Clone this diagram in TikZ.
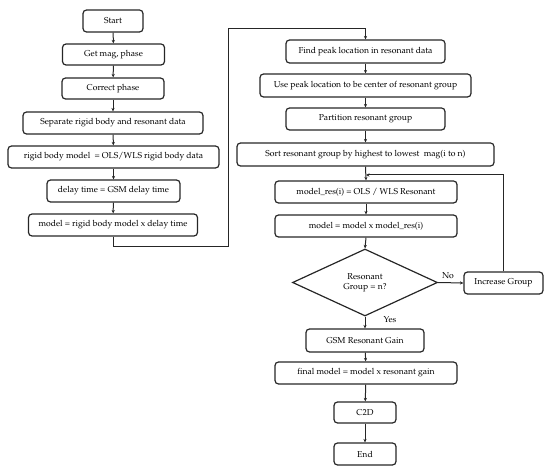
\documentclass[tikz,border=0pt]{standalone}
\usepackage[T1]{fontenc}
\usepackage{mathpazo}
\usetikzlibrary{shapes.geometric,arrows.meta}
\begin{document}
\begin{tikzpicture}[x=1pt,y=-1pt,
  box/.style={draw=black!85,line width=1.2pt,rounded corners=3.5pt,inner sep=0pt,
    font=\fontsize{8.6}{10}\selectfont,align=center},
  conn/.style={draw=black!85,line width=1pt,-{Stealth[length=3.5pt,width=3.2pt]}},
  lbl/.style={font=\fontsize{8.6}{10}\selectfont,inner sep=0pt}]
\useasboundingbox (0,0) rectangle (550,473);
\node[box,minimum width=60pt,minimum height=22pt] (start) at (113,21) {Start};
\node[box,minimum width=102pt,minimum height=21pt] (getmag) at (113.5,54.5) {Get mag, phase};
\node[box,minimum width=102pt,minimum height=21pt] (correct) at (113,88.5) {Correct phase};
\node[box,minimum width=180pt,minimum height=22pt] (separate) at (113,123) {Separate rigid body and resonant data};
\node[box,minimum width=211pt,minimum height=22pt] (rigid) at (113.5,157) {rigid body model\ \ = OLS/WLS rigid body data};
\node[box,minimum width=133pt,minimum height=22pt] (delay) at (113.5,191) {delay time = GSM delay time};
\node[box,minimum width=169pt,minimum height=22pt] (modelA) at (113,225) {model = rigid body model x delay time};
\node[box,minimum width=159pt,minimum height=23pt] (findpeak) at (365.5,51.5) {Find peak location in resonant data};
\node[box,minimum width=211pt,minimum height=23pt] (usepeak) at (365.5,85.5) {Use peak location to be center of resonant group};
\node[box,minimum width=159pt,minimum height=22pt] (partition) at (365.5,119) {Partition resonant group};
\node[box,minimum width=257pt,minimum height=23pt] (sort) at (365.5,154.5) {Sort resonant group by highest to lowest\ \ mag(i to n)};
\node[box,minimum width=182pt,minimum height=22pt] (modelres) at (366,192) {model\_res(i) = OLS / WLS Resonant};
\node[box,minimum width=182pt,minimum height=22pt] (modelB) at (366,226) {model = model x model\_res(i)};
\node[box,rounded corners=0pt,diamond,minimum width=145pt,minimum height=67pt,aspect=2.16] (dec) at (365,282.5) {Resonant\\Group = n?};
\node[box,minimum width=79pt,minimum height=22pt] (increase) at (503.5,283) {Increase Group};
\node[box,minimum width=118pt,minimum height=23pt] (gsm) at (365,340.5) {GSM Resonant Gain};
\node[box,minimum width=182pt,minimum height=22pt] (final) at (366,373) {final model = model x resonant gain};
\node[box,minimum width=62pt,minimum height=21pt] (c2d) at (365,412.5) {C2D};
\node[box,minimum width=62pt,minimum height=22pt] (end) at (365,454) {End};
\coordinate (jA) at (113,247);
\coordinate (jB) at (228,247);
\coordinate (jC) at (228,29);
\coordinate (jD) at (365.5,29);
\coordinate (fb) at (503.5,175);
\coordinate (fbin) at (366,175);
\draw[conn] (start) -- (getmag);
\draw[conn] (getmag) -- (correct);
\draw[conn] (correct) -- (separate);
\draw[conn] (separate) -- (rigid);
\draw[conn] (rigid) -- (delay);
\draw[conn] (delay) -- (modelA);
\draw[conn] (modelA.south) -- (jA) -- (jB) -- (jC) -- (jD) -- (findpeak.north);
\draw[conn] (findpeak) -- (usepeak);
\draw[conn] (usepeak) -- (partition);
\draw[conn] (partition) -- (sort);
\draw[conn] (sort.south) -- (modelres.north);
\draw[conn] (increase.north) -- (fb) -- (fbin);
\draw[conn] (modelres) -- (modelB);
\draw[conn] (modelB.south) -- (dec.north);
\draw[conn] (dec.east) -- (increase.west);
\draw[conn] (dec.south) -- (gsm.north);
\draw[conn] (gsm) -- (final);
\draw[conn] (final) -- (c2d);
\draw[conn] (c2d) -- (end);
\node[lbl] (no) at (448,276) {No};
\node[lbl] (yes) at (390,320) {Yes};
\end{tikzpicture}
\end{document}
